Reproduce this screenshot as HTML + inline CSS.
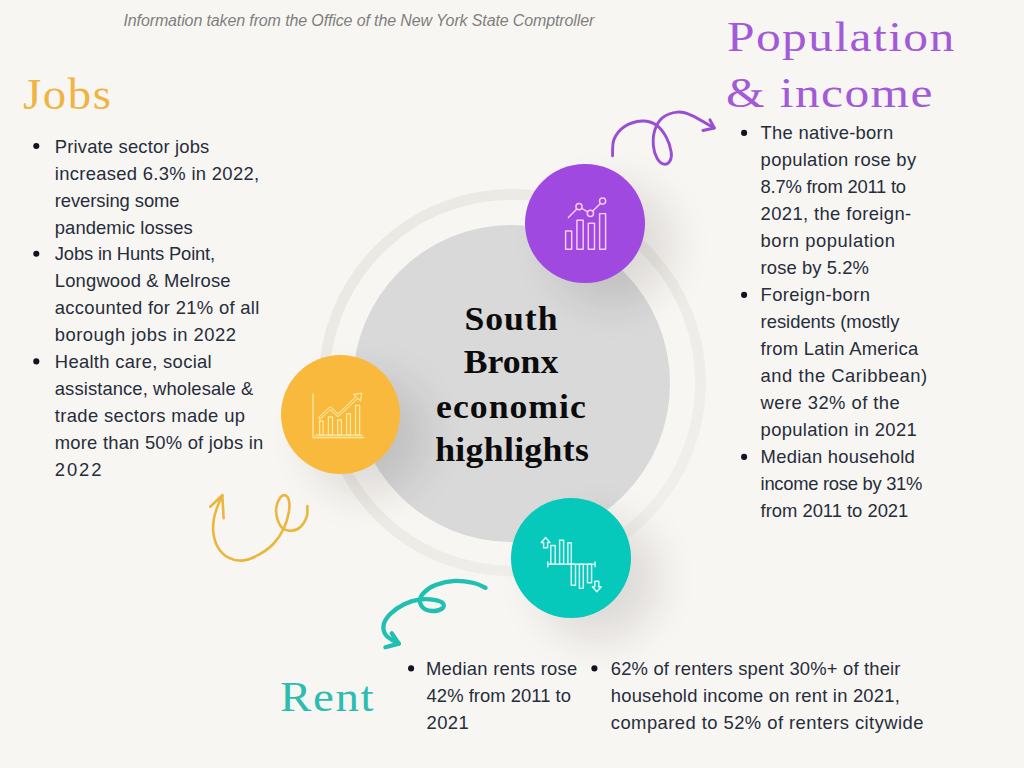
<!DOCTYPE html>
<html lang="en">
<head>
<meta charset="utf-8">
<title>South Bronx economic highlights</title>
<style>
html,body{margin:0;padding:0}
h1,h2,ul,li{margin:0;padding:0;list-style:none;font:inherit}
body{width:1024px;height:768px;overflow:hidden;background:#f8f6f2;position:relative;font-family:"Liberation Sans",sans-serif;color:#262d3b}
.t{display:block;position:absolute;white-space:nowrap;font-size:18.4px;line-height:20px;height:20px;color:#262d3b}
.src{position:absolute;left:123.5px;top:11px;font-size:16px;line-height:20px;font-style:italic;color:#7f7f7f;white-space:nowrap;letter-spacing:-0.125px}
.h{position:absolute;white-space:nowrap;font-family:"Liberation Serif",serif;font-weight:400;transform-origin:0 0}
.c{display:block;position:absolute;white-space:nowrap;font-family:"Liberation Serif",serif;font-weight:700;font-size:34.0px;line-height:40px;color:#0b0b0b;text-align:center;width:200px;box-sizing:border-box;transform:scaleX(1.05);transform-origin:50% 50%}
.big{position:absolute;left:352.9px;top:224.8px;width:317.6px;height:317.6px;border-radius:50%;background:#d9d9d9}
.dot{position:absolute;width:119.6px;height:119.6px;border-radius:50%;box-shadow:27px 21px 40px rgba(40,35,30,.125)}
svg{position:absolute;left:0;top:0}
</style>
</head>
<body>
<svg width="1024" height="768" viewBox="0 0 1024 768" fill="none"><defs><linearGradient id="rg" gradientUnits="userSpaceOnUse" x1="370" y1="240" x2="655" y2="525"><stop offset="0" stop-color="#ebe9e4"/><stop offset="0.55" stop-color="#edebe6"/><stop offset="1" stop-color="#f1efeb"/></linearGradient></defs><circle cx="512.2" cy="382.7" r="188.35" stroke="url(#rg)" stroke-width="10.7"/></svg>
<div class="big"></div>
<div class="dot" style="left:525.2px;top:163.7px;background:#a049e0"></div>
<div class="dot" style="left:280.8px;top:354.9px;background:#f9b93c"></div>
<div class="dot" style="left:511.3px;top:498.3px;background:#06c9bb"></div>
<svg width="1024" height="768" viewBox="0 0 1024 768" fill="none" stroke-linecap="round" stroke-linejoin="round">

<path d="M612.5 155.9C612.8 153.2 612.0 144.3 614.0 139.4C616.0 134.5 619.5 129.8 624.2 126.7C628.9 123.6 636.7 121.3 642.0 121.0C647.3 120.7 651.9 122.1 655.9 124.8C659.9 127.5 663.5 132.3 666.1 136.9C668.7 141.5 670.6 148.1 671.2 152.1C671.8 156.1 671.1 159.0 669.9 161.0C668.7 163.0 666.3 164.6 664.2 164.2C662.1 163.8 659.0 161.6 657.2 158.5C655.4 155.4 653.8 150.5 653.4 145.8C653.0 141.1 653.2 135.2 654.7 130.5C656.2 125.8 658.5 121.0 662.3 117.9C666.1 114.8 672.6 112.5 677.5 112.1C682.4 111.7 685.4 112.6 691.5 115.3C697.6 118.0 710.5 125.9 714.3 128.0" stroke="#9a4ed1" stroke-width="2.9"/>
<path d="M709.9 119.8L714.3 128L702.9 130.5" stroke="#9a4ed1" stroke-width="2.9"/>
<path d="M307.4 506.0C307.3 507.8 307.9 513.3 306.7 516.8C305.5 520.3 302.9 524.7 300.4 527.0C297.9 529.3 294.5 530.6 291.5 530.8C288.5 531.0 284.9 530.1 282.6 528.2C280.3 526.3 278.6 522.8 277.5 519.4C276.4 516.0 275.8 511.5 276.2 507.9C276.6 504.3 278.6 499.9 280.1 497.8C281.6 495.7 283.6 494.8 285.1 495.2C286.6 495.6 288.3 497.6 288.9 500.3C289.5 503.1 289.7 507.0 288.9 511.7C288.1 516.4 286.4 522.9 283.9 528.2C281.4 533.5 277.9 539.0 273.7 543.5C269.5 548.0 263.8 552.0 258.5 554.9C253.2 557.8 247.1 560.2 242.0 560.6C236.9 561.0 232.0 559.6 228.0 557.4C224.0 555.2 220.3 551.3 217.9 547.3C215.5 543.3 214.1 538.2 213.4 533.3C212.8 528.4 213.2 522.8 214.0 518.1C214.8 513.5 216.5 509.2 217.9 505.4C219.3 501.6 221.6 496.9 222.3 495.2" stroke="#ebb63e" stroke-width="2.6"/>
<path d="M210.2 506.7L222.3 495.2L223.6 518.1" stroke="#ebb63e" stroke-width="2.6"/>
<path d="M485.5 587.8C483.6 587.0 479.0 584.1 473.9 583.0C468.8 581.9 461.2 580.6 454.8 580.9C448.4 581.2 440.9 583.0 435.6 585.0C430.4 587.0 425.9 590.5 423.3 593.2C420.7 595.9 419.7 598.8 419.9 601.4C420.1 604.0 422.3 607.4 424.7 609.0C427.1 610.6 431.3 611.1 434.3 611.0C437.3 610.9 441.0 609.5 442.5 608.3C444.0 607.0 444.2 604.9 443.1 603.5C442.0 602.1 439.4 600.8 435.6 600.1C431.9 599.4 425.8 598.7 420.6 599.4C415.4 600.1 409.2 601.8 404.2 604.2C399.2 606.6 393.9 610.4 390.5 613.8C387.1 617.2 384.4 621.1 383.7 624.7C383.0 628.3 383.7 632.4 386.2 635.5C388.7 638.6 396.7 642.2 398.8 643.6" stroke="#1fbfb1" stroke-width="4.3"/>
<path d="M391.7 633.2L398.8 643.6L385.4 647.3" stroke="#1fbfb1" stroke-width="4.3"/>

<g stroke="#f8cdf8" stroke-width="1.45" fill="none">
<rect x="565.6" y="230.9" width="6.1" height="18.3"/><rect x="576.9" y="220.3" width="6.3" height="28.9"/><rect x="588.3" y="223.3" width="6.2" height="25.9"/><rect x="599.6" y="213.6" width="6.0" height="35.6"/>
<path d="M568.4 217.5L576.8 209M582 208.5L587.6 211.8M592.8 211L600.4 203.4"/>
<circle cx="579" cy="206.7" r="3.1"/><circle cx="590.4" cy="213.4" r="3.1"/><circle cx="602.6" cy="201.1" r="3.1"/>
</g>
<g stroke="#fde9a2" stroke-width="1.3" fill="none">
<path d="M313 393.8V437.5H363.5M316 435.2H362"/>
<rect x="319.6" y="421.0" width="3.6" height="14.2"/><rect x="328.4" y="417.0" width="4.1" height="18.2"/><rect x="337.7" y="420.0" width="3.7" height="15.2"/><rect x="346.6" y="413.7" width="3.8" height="21.5"/><rect x="355.5" y="405.4" width="4.1" height="29.8"/>
<path d="M319.8 417.9L330.2 408.2L338 415.4L357 397.5" stroke-width="3.2"/>
<path d="M353.6 394.4L361.6 393.2L360.6 401Z" fill="#f9b93c" stroke-width="1.1"/>
</g>
<path d="M319.8 417.9L330.2 408.2L338 415.4L357 397.5" stroke="#f9b93c" stroke-width="1.2" fill="none"/>
<g stroke="#dcfcf8" stroke-width="1.45" fill="none">
<path d="M547.7 564.3H595.1M547.7 561.9V566.8M595.1 561.9V566.8"/>
<rect x="550.8" y="545.4" width="4.4" height="18.9"/><rect x="559.6" y="540.2" width="4.0" height="24.1"/><rect x="567.9" y="542.8" width="3.4" height="21.5"/>
<rect x="571.3" y="564.3" width="4.2" height="20.9"/><rect x="579.4" y="564.3" width="3.9" height="24.1"/><rect x="587.5" y="564.3" width="4.1" height="18.4"/>
<path d="M545.6 537.4L550 542.4H547.6V547.8H543.6V542.4H541.2Z"/>
<path d="M596.8 591.7L601.2 586.7H598.8V581.3H594.8V586.7H592.4Z"/>
</g>
<circle cx="36.3" cy="146.0" r="3.05" fill="#10141d"/><circle cx="36.3" cy="253.7" r="3.05" fill="#10141d"/><circle cx="36.3" cy="361.4" r="3.05" fill="#10141d"/><circle cx="744.1" cy="132.9" r="3.05" fill="#10141d"/><circle cx="744.1" cy="294.9" r="3.05" fill="#10141d"/><circle cx="744.1" cy="456.9" r="3.05" fill="#10141d"/><circle cx="411.1" cy="668.4" r="3.05" fill="#10141d"/><circle cx="594.4" cy="668.4" r="3.05" fill="#10141d"/>
</svg>
<header class="src">Information taken from the Office of the New York State Comptroller</header>
<h1>
<span class="c" style="left:411.2px;top:298.62px;letter-spacing:0.9px;padding-left:0.9px">South</span>
<span class="c" style="left:411.4px;top:342.42px;letter-spacing:0.0px;padding-left:0.0px">Bronx</span>
<span class="c" style="left:411.4px;top:386.52px;letter-spacing:0.95px;padding-left:0.95px">economic</span>
<span class="c" style="left:412.3px;top:430.32px;letter-spacing:0.3px;padding-left:0.3px">highlights</span>
</h1>
<section id="jobs">
<h2 class="h" id="h-jobs" style="left:23.0px;top:69.32px;font-size:43.5px;line-height:50px;color:#efb443;letter-spacing:1.5px;transform:scaleX(1.075)">Jobs</h2>
<ul>
<li><span class="t" style="left:54.8px;top:137.00px;letter-spacing:0.178px">Private sector jobs</span><span class="t" style="left:54.8px;top:164.00px;letter-spacing:0.318px">increased 6.3% in 2022,</span><span class="t" style="left:54.8px;top:191.00px;letter-spacing:-0.077px">reversing some</span><span class="t" style="left:54.8px;top:218.00px;letter-spacing:0.071px">pandemic losses</span></li>
<li><span class="t" style="left:54.8px;top:244.00px;letter-spacing:-0.168px">Jobs in Hunts Point,</span><span class="t" style="left:54.8px;top:271.00px;letter-spacing:0.176px">Longwood &amp; Melrose</span><span class="t" style="left:54.8px;top:298.00px;letter-spacing:0.313px">accounted for 21% of all</span><span class="t" style="left:54.8px;top:325.00px;letter-spacing:0.495px">borough jobs in 2022</span></li>
<li><span class="t" style="left:54.8px;top:352.00px;letter-spacing:0.311px">Health care, social</span><span class="t" style="left:54.8px;top:379.00px;letter-spacing:0.100px">assistance, wholesale &amp;</span><span class="t" style="left:54.8px;top:406.00px;letter-spacing:0.360px">trade sectors made up</span><span class="t" style="left:54.8px;top:433.00px;letter-spacing:0.217px">more than 50% of jobs in</span><span class="t" style="left:54.8px;top:460.00px;letter-spacing:1.933px">2022</span></li>
</ul>
</section>
<section id="population">
<h2 class="h" id="h-pop" style="left:727.0px;top:11.59px;font-size:41.5px;line-height:50px;color:#a25ad8;letter-spacing:1.2px;transform:scaleX(1.192)">Population</h2>
<h2 class="h" id="h-inc" style="left:726.0px;top:68.19px;font-size:41.5px;line-height:50px;color:#a25ad8;letter-spacing:1.2px;transform:scaleX(1.192)">&amp; income</h2>
<ul>
<li><span class="t" style="left:760.6px;top:123.00px;letter-spacing:0.271px">The native-born</span><span class="t" style="left:760.6px;top:150.00px;letter-spacing:0.306px">population rose by</span><span class="t" style="left:760.6px;top:177.00px;letter-spacing:-0.213px">8.7% from 2011 to</span><span class="t" style="left:760.6px;top:204.00px;letter-spacing:0.376px">2021, the foreign-</span><span class="t" style="left:760.6px;top:231.00px;letter-spacing:0.543px">born population</span><span class="t" style="left:760.6px;top:258.00px;letter-spacing:0.091px">rose by 5.2%</span></li>
<li><span class="t" style="left:760.6px;top:285.00px;letter-spacing:0.364px">Foreign-born</span><span class="t" style="left:760.6px;top:312.00px;letter-spacing:-0.012px">residents (mostly</span><span class="t" style="left:760.6px;top:339.00px;letter-spacing:0.247px">from Latin America</span><span class="t" style="left:760.6px;top:366.00px;letter-spacing:0.529px">and the Caribbean)</span><span class="t" style="left:760.6px;top:393.00px;letter-spacing:0.443px">were 32% of the</span><span class="t" style="left:760.6px;top:420.00px;letter-spacing:0.341px">population in 2021</span></li>
<li><span class="t" style="left:760.6px;top:447.00px;letter-spacing:0.253px">Median household</span><span class="t" style="left:760.6px;top:474.00px;letter-spacing:-0.282px">income rose by 31%</span><span class="t" style="left:760.6px;top:501.00px;letter-spacing:-0.012px">from 2011 to 2021</span></li>
</ul>
</section>
<section id="rent">
<h2 class="h" id="h-rent" style="left:280.0px;top:671.66px;font-size:42.5px;line-height:50px;color:#2cbdb0;letter-spacing:1.5px;transform:scaleX(1.105)">Rent</h2>
<ul>
<li><span class="t" style="left:426.0px;top:659.00px;letter-spacing:0.250px">Median rents rose</span><span class="t" style="left:426.6px;top:686.00px;letter-spacing:0.040px">42% from 2011 to</span><span class="t" style="left:426.6px;top:713.00px;letter-spacing:0.400px">2021</span></li>
<li><span class="t" style="left:610.8px;top:659.00px;letter-spacing:0.182px">62% of renters spent 30%+ of their</span><span class="t" style="left:610.8px;top:686.00px;letter-spacing:0.213px">household income on rent in 2021,</span><span class="t" style="left:610.8px;top:713.00px;letter-spacing:0.447px">compared to 52% of renters citywide</span></li>
</ul>
</section>
</body>
</html>
